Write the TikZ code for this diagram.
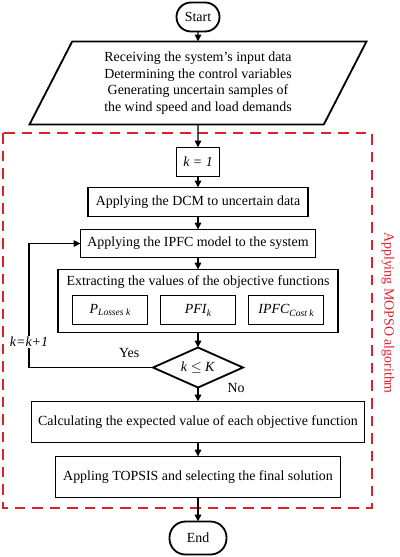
\documentclass[tikz,border=0pt]{standalone}
\usepackage{fontspec}
\setmainfont{Liberation Serif}
\usepackage{tikz}
\usetikzlibrary{arrows.meta,positioning,calc,shapes.geometric}
\definecolor{ink}{RGB}{0,0,0}
\definecolor{mopsored}{RGB}{222,32,44}
\newcommand{\flowfont}{\fontsize{9.9pt}{11.8pt}\selectfont}
\newcommand{\lowidx}[1]{\raisebox{-0.45ex}{\fontsize{6.8pt}{7pt}\selectfont\itshape #1}}
\tikzset{
  term/.style    = {draw=ink, line width=1.3pt, rounded corners=3.6mm, align=center,
                    inner sep=0pt, outer sep=0pt, font=\flowfont},
  inbox/.style   = {trapezium, trapezium left angle=63, trapezium right angle=117,
                    trapezium stretches=true, draw=ink, line width=1.3pt,
                    align=center, inner sep=0pt, outer sep=0pt, font=\flowfont},
  proc/.style    = {draw=ink, line width=1.3pt, align=center, inner sep=0pt, outer sep=0pt,
                    minimum height=7.25mm, font=\flowfont},
  subbox/.style  = {draw=ink, line width=1.3pt, inner sep=0pt, outer sep=0pt,
                    minimum width=18.75mm, minimum height=7.25mm, font=\flowfont},
  test/.style    = {diamond, draw=ink, line width=1.3pt, inner sep=0pt, outer sep=0pt,
                    aspect=2.25, minimum width=22.5mm, minimum height=10mm, font=\flowfont},
  note/.style    = {inner sep=1pt, font=\flowfont},
  flow/.style    = {-{Triangle[length=1.7mm,width=1.6mm]}, draw=ink, line width=1pt},
  mopso/.style   = {draw=mopsored, line width=1.2pt, dash pattern=on 7.5pt off 5pt},
}
\begin{document}
\begin{tikzpicture}
\useasboundingbox (-49.5mm,4.25mm) rectangle (50.5mm,-135mm);
\node[term, minimum width=10.75mm, minimum height=7.25mm] (start) at (0,0) {Start};
\node[inbox, below=2.5mm of start, minimum width=84.25mm, minimum height=20.75mm] (input)
  {Receiving the system's input data\\Determining the control variables\\Generating uncertain samples of\\the wind speed and load demands};
\node[proc, below=5.75mm of input, minimum width=10.75mm] (init) {\textit{k = 1}};
\node[proc, below=2.75mm of init, minimum width=55mm] (dcm) {Applying the DCM to uncertain data};
\node[proc, below=3.25mm of dcm, minimum width=58.75mm, minimum height=7mm] (ipfc) {Applying the IPFC model to the system};
\node[proc, below=3mm of ipfc, minimum width=70mm, minimum height=15.75mm] (extract) {};
\node[note, below=1.1mm of extract.north] (extitle) {Extracting the values of the objective functions};
\node[subbox, above=2mm of extract.south] (pfi) {\textit{PFI}\lowidx{k}};
\node[subbox, left=3.25mm of pfi] (loss) {\textit{P}\lowidx{Losses k}};
\node[subbox, right=3.25mm of pfi] (cost) {\textit{IPFC}\lowidx{Cost k}};
\node[test, below=3.75mm of extract] (check) {\textit{k} $\leq$ \textit{K}};
\node[proc, below=3.5mm of check, minimum width=83.25mm, minimum height=10.25mm] (expect) {Calculating the expected value of each objective function};
\node[proc, below=3.5mm of expect, minimum width=71.25mm, minimum height=10.25mm] (topsis) {Appling TOPSIS and selecting the final solution};
\node[term, below=6mm of topsis, minimum width=14.25mm, minimum height=8.25mm, rounded corners=4mm] (finish) {End};
\draw[mopso] (-48.75mm,-29mm) rectangle (43.5mm,-122.75mm);
\node[note, text=mopsored, rotate=-90] (mopsolabel) at (47.5mm,-74mm) {Applying MOPSO algorithm};
\coordinate[left=31mm of check.west] (back);
\draw[flow] (start) -- (input);
\draw[flow] (input) -- (init);
\draw[flow] (init) -- (dcm);
\draw[flow] (dcm) -- (ipfc);
\draw[flow] (ipfc) -- (extract);
\draw[flow] (extract) -- (check);
\draw[flow] (check) -- (expect);
\draw[flow] (expect) -- (topsis);
\draw[flow] (topsis) -- (finish);
\draw[flow] (check.west) -- (back) |- (ipfc.west);
\node[note, fill=white, above=4.8mm of back] (incr) {\textit{k=k+1}};
\node[note, above left=2mm and 3mm of check.west] (yes) {Yes};
\node[note, right=7mm of check.south] (no) {No};
\end{tikzpicture}
\end{document}
